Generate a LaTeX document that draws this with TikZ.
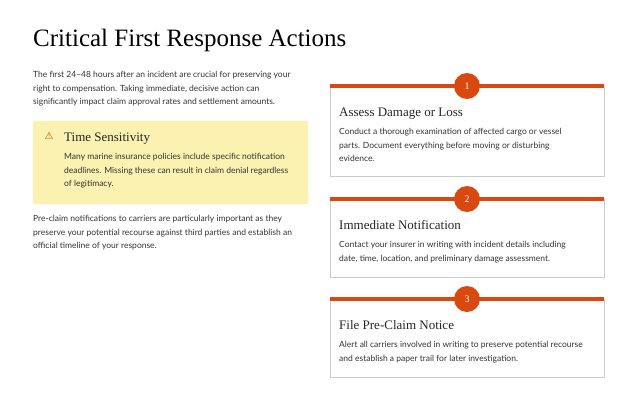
\documentclass[tikz,border=0pt]{standalone}
\usepackage{fontspec}
\setmainfont{Lato}
\newfontfamily\headfont{Liberation Serif}
\newfontfamily\symfont{DejaVu Sans}
\definecolor{accent}{HTML}{D9480F}
\definecolor{warnfill}{HTML}{FBF1B0}
\definecolor{ink}{HTML}{333333}
\definecolor{cardline}{HTML}{CCCCCC}
\tikzset{
  bodytext/.style={anchor=north west, inner sep=0pt, align=left, text=ink,
    font=\fontsize{8.5}{13.6}\selectfont},
  headtext/.style={anchor=base west, inner sep=0pt, text=black!85,
    font=\headfont\fontsize{13}{15}\selectfont},
  card/.style={draw=cardline, fill=white, line width=0.6pt},
  stepnum/.style={circle, fill=accent, minimum size=26pt, inner sep=0pt,
    text=white, font=\headfont\fontsize{10}{12}\selectfont}
}
\begin{document}
\begin{tikzpicture}[x=1pt,y=-1pt]
\useasboundingbox (0,0) rectangle (638,410);
\node[anchor=base west, inner sep=0pt, font=\headfont\fontsize{25}{30}\selectfont] (title) at (33,46) {Critical First Response Actions};
\node[bodytext] (intro) at (33,71) {The first 24--48 hours after an incident are crucial for preserving your\\right to compensation. Taking immediate, decisive action can\\significantly impact claim approval rates and settlement amounts.};

% warning box
\fill[warnfill] (33,121) rectangle (308,204);
\node[text=accent!70!yellow!80!black, font=\symfont\fontsize{10}{12}\selectfont] (warn) at (49,136) {⚠};
\node[headtext] (warntitle) at (64,141) {Time Sensitivity};
\node[bodytext] (warnbody) at (64,153) {Many marine insurance policies include specific notification\\deadlines. Missing these can result in claim denial regardless\\of legitimacy.};

\node[bodytext] (outro) at (33,215) {Pre-claim notifications to carriers are particularly important as they\\preserve your potential recourse against third parties and establish an\\official timeline of your response.};

% step cards
\foreach \n/\top/\bot/\head/\body in {
  1/86/176/{Assess Damage or Loss}/{Conduct a thorough examination of affected cargo or vessel\\parts. Document everything before moving or disturbing\\evidence.},
  2/199/277/{Immediate Notification}/{Contact your insurer in writing with incident details including\\date, time, location, and preliminary damage assessment.},
  3/299/377/{File Pre-Claim Notice}/{Alert all carriers involved in writing to preserve potential recourse\\and establish a paper trail for later investigation.}}{
  \draw[card] (330,\top) rectangle (604,\bot);
  \draw[accent, line width=4pt] (330,\top) -- (604,\top);
  \node[stepnum] (num\n) at (467,\top) {\n};
  \node[headtext] (head\n) at (339,\top+30) {\head};
  \node[bodytext] (body\n) at (339,\top+42) {\body};
}
\end{tikzpicture}
\end{document}
